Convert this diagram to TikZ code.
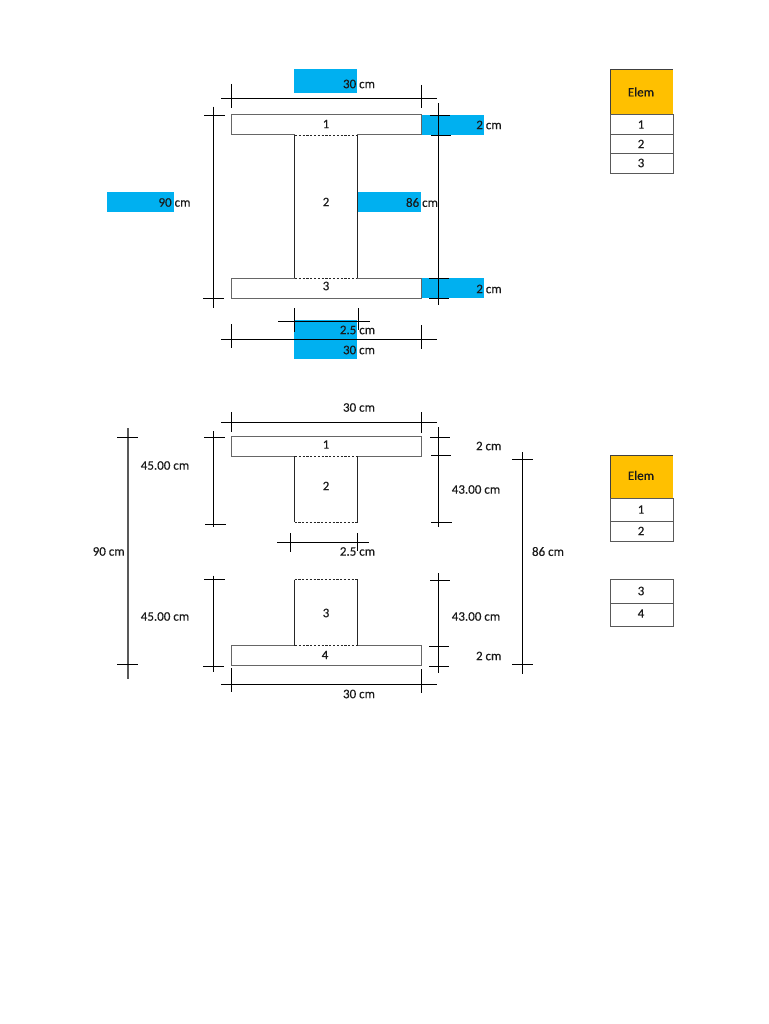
\documentclass[tikz,border=0pt]{standalone}
\usepackage{fontspec}
\setmainfont[FakeBold=0.3]{Carlito}
\definecolor{bluefill}{HTML}{00B0F0}
\definecolor{orangefill}{HTML}{FFC000}
\definecolor{lbl}{HTML}{1A1A1A}
\tikzset{
  dimline/.style={draw=black,line width=0.8pt},
  wideline/.style={draw=black!65,line width=1.4pt},
  outline/.style={draw=black!60,line width=1pt,fill=white},
  webline/.style={draw=black!85,line width=1pt},
  cutline/.style={draw=black!85,line width=0.8pt,dash pattern=on 2.2pt off 1.6pt},
  cellbox/.style={draw=black!65,line width=1pt,fill=white},
  lab/.style={font=\fontsize{13}{13}\selectfont,text=lbl,inner sep=0pt,anchor=center}
}
\begin{document}
\begin{tikzpicture}[x=1pt,y=-1pt]
\useasboundingbox[fill=white] (0,0) rectangle (768,1024);
% blue highlight cells
\fill[bluefill] (294,69) rectangle (357,93);
\fill[bluefill] (421,115) rectangle (484,135);
\fill[bluefill] (107,192) rectangle (173.5,212);
\fill[bluefill] (358,192) rectangle (421,212);
\fill[bluefill] (421,278) rectangle (484,298);
\fill[bluefill] (294,320) rectangle (357,359);
% I section
\draw[outline] (231.5,115) rectangle (421,135);
\draw[outline] (231.5,278) rectangle (421,298);
\draw[draw=white,line width=1.4pt] (295,135) -- (357,135) (295,278) -- (357,278);
\draw[cutline] (295,135) -- (357,135);
\draw[cutline] (295,278) -- (357,278);
\draw[webline] (294.5,135) -- (294.5,278) (357.5,135) -- (357.5,278);
% I section dimensions
\draw[dimline] (221,98.5) -- (436.7,98.5) (231.5,84) -- (231.5,108) (421,85) -- (421,108);
\draw[dimline] (213.3,106.7) -- (213.3,307.7) (204,115) -- (225,115) (203,298) -- (224,298);
\draw[dimline] (438.3,103.3) -- (438.3,305) (430,115) -- (450,115) (431,135) -- (451,135) (429,278) -- (449,278) (429,298) -- (449,298);
\draw[dimline] (278,321) -- (370,321) (294.5,308) -- (294.5,332) (358.5,308) -- (358.5,330);
\draw[dimline] (221,339.7) -- (436.7,339.7) (231.5,324) -- (231.5,348) (421,325) -- (421,349);
% I section labels
\node[lab] (a1) at (359,84) {30 cm};
\node[lab] (a2) at (489,125) {2 cm};
\node[lab] (a3) at (174.5,202.5) {90 cm};
\node[lab] (a4) at (422,202.5) {86 cm};
\node[lab] (a5) at (489,289) {2 cm};
\node[lab] (a6) at (357.5,330) {2.5 cm};
\node[lab] (a7) at (359,350) {30 cm};
\node[lab] (n1) at (326,124) {1};
\node[lab] (n2) at (326,202) {2};
\node[lab] (n3) at (326,286) {3};
% split section
\draw[outline] (231.5,436) rectangle (421,456);
\draw[outline] (231.5,645.5) rectangle (421,665);
\draw[webline] (294.5,456) -- (294.5,522) (357.5,456) -- (357.5,522);
\draw[webline] (294.5,579.5) -- (294.5,645.5) (357.5,579.5) -- (357.5,645.5);
\draw[draw=white,line width=1.4pt] (295,456) -- (357,456) (295,645.5) -- (357,645.5);
\draw[cutline] (295,456) -- (357,456);
\draw[cutline] (294.5,522) -- (357.5,522);
\draw[cutline] (294.5,579.5) -- (357.5,579.5);
\draw[cutline] (295,645.5) -- (357,645.5);
% split section dimensions
\draw[dimline] (221,422.7) -- (436.7,422.7) (231.5,412) -- (231.5,432) (421,412) -- (421,433);
\draw[wideline] (128,428) -- (128,679);
\draw[dimline] (117,437) -- (138,437) (117,664.5) -- (138,664.5);
\draw[dimline] (213.3,431) -- (213.3,527) (204,437) -- (225,437) (205,524) -- (226,524);
\draw[dimline] (213.3,575.5) -- (213.3,672) (204,579.5) -- (225,579.5) (203,666.5) -- (224,666.5);
\draw[dimline] (438.3,427) -- (438.3,527) (430,437) -- (450,437) (431,455.7) -- (451,455.7) (431,522) -- (452,522);
\draw[dimline] (438.3,573) -- (438.3,673) (430,580.7) -- (450,580.7) (429,646) -- (449,646) (429,666.5) -- (449,666.5);
\draw[dimline] (522.7,452) -- (522.7,674) (512,459.7) -- (533,459.7) (512,664.5) -- (533,664.5);
\draw[dimline] (277,542.5) -- (369,542.5) (290.7,533) -- (290.7,552) (357.7,533) -- (357.7,551);
\draw[dimline] (221,684) -- (436.7,684) (231.5,668) -- (231.5,692) (421,669) -- (421,693);
% split section labels
\node[lab] (b1) at (359,407.5) {30 cm};
\node[lab] (b2) at (165,465.5) {45.00 cm};
\node[lab] (b3) at (165,616.5) {45.00 cm};
\node[lab] (b4) at (488.7,446) {2 cm};
\node[lab] (b5) at (476,489.5) {43.00 cm};
\node[lab] (b6) at (476,616.5) {43.00 cm};
\node[lab] (b7) at (488.7,656) {2 cm};
\node[lab] (b8) at (108.7,551.5) {90 cm};
\node[lab] (b9) at (548,551.5) {86 cm};
\node[lab] (b10) at (357.5,551.5) {2.5 cm};
\node[lab] (b11) at (359,694) {30 cm};
\node[lab] (m1) at (326,444.5) {1};
\node[lab] (m2) at (326,486) {2};
\node[lab] (m3) at (326,613) {3};
\node[lab] (m4) at (325,655) {4};
% table 1
\fill[orangefill] (610,70) rectangle (673,115);
\draw[draw=black!75,line width=1pt] (610,115) -- (610,70) -- (673,70);
\draw[cellbox] (610,115) rectangle (673,135);
\draw[cellbox] (610,135) rectangle (673,154);
\draw[cellbox] (610,154) rectangle (673,173.5);
\node[lab] (t0) at (641,92) {Elem};
\node[lab] (t1) at (641,124.5) {1};
\node[lab] (t2) at (641,144) {2};
\node[lab] (t3) at (641,163) {3};
% table 2
\fill[orangefill] (610,455.5) rectangle (673,498);
\draw[draw=black!75,line width=1pt] (610,498) -- (610,455.5) -- (673,455.5);
\draw[cellbox] (610,498) rectangle (673,521.5);
\draw[cellbox] (610,521.5) rectangle (673,541);
\draw[cellbox] (610,579.5) rectangle (673,603);
\draw[cellbox] (610,603) rectangle (673,626);
\node[lab] (s0) at (641,475.5) {Elem};
\node[lab] (s1) at (641,509.5) {1};
\node[lab] (s2) at (641,531) {2};
\node[lab] (s3) at (641,591) {3};
\node[lab] (s4) at (641,613.5) {4};
\end{tikzpicture}
\end{document}
